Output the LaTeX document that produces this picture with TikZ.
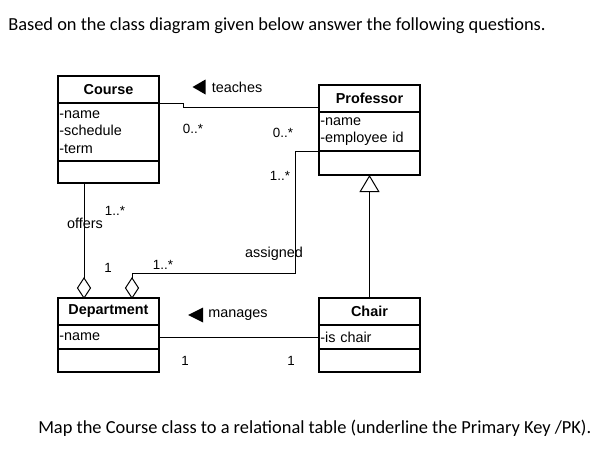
\documentclass[tikz,border=0pt]{standalone}
\usepackage{fontspec}
\setmainfont{Carlito}
\newfontfamily\umlfont{Liberation Sans}
\usetikzlibrary{positioning,shapes.geometric,arrows.meta,calc}

\tikzset{
  classhead/.style={draw, line width=0.9pt, minimum width=75.75pt, minimum height=20.25pt, inner sep=0pt, outer sep=0pt, font=\umlfont\fontsize{10.8}{13}\selectfont\bfseries},
  classbody/.style={draw, line width=0.9pt, minimum width=75.75pt, text width=73.75pt, inner xsep=1pt, inner ysep=0pt, outer sep=0pt, align=left, font=\umlfont\fontsize{10.8}{13}\selectfont},
  assoc/.style={line width=0.75pt},
  aggr/.style={diamond, draw, line width=0.75pt, fill=white, minimum width=9.75pt, minimum height=15pt, inner sep=0pt, outer sep=0pt},
  mult/.style={inner sep=0.75pt, font=\umlfont\fontsize{10}{12}\selectfont},
  rolelbl/.style={inner sep=0.75pt, font=\umlfont\fontsize{10.8}{13}\selectfont},
  plaintext/.style={anchor=base west, inner sep=0pt, font=\fontsize{13.8}{16}\selectfont}
}

\begin{document}
\begin{tikzpicture}[x=0.75pt,y=0.75pt,yscale=-1,xscale=1]
        \path [use as bounding box] (0,0) rectangle (601,455);

        % Text Node
        \node (question) [plaintext] at (8,30) {Based on the class diagram given below answer the following questions.};

        %Class: Course
        \node (course) [classhead, anchor=north west] at (58,76) {Course};
        \node (courseattr) [classbody, minimum height=43.5pt, below=0pt of course] {-name\\-schedule\\-term};
        \node (courseops) [classbody, minimum height=16.5pt, below=0pt of courseattr] {};
        %Class: Professor
        \node (prof) [classhead, anchor=north west] at (319,85) {Professor};
        \node (profattr) [classbody, minimum height=29.25pt, below=0pt of prof] {-name\\-employee id};
        \node (profops) [classbody, minimum height=18pt, below=0pt of profattr] {};
        %Class: Department
        \node (dept) [classhead, anchor=north west] at (58,298) {Department};
        \node (deptattr) [classbody, minimum height=18pt, below=0pt of dept] {-name};
        \node (deptops) [classbody, minimum height=17.25pt, below=0pt of deptattr] {};
        %Class: Chair
        \node (chair) [classhead, anchor=north west] at (319,298) {Chair};
        \node (chairattr) [classbody, minimum height=18pt, below=0pt of chair] {-is chair};
        \node (chairops) [classbody, minimum height=17.25pt, below=0pt of chairattr] {};

        %Aggregation diamonds
        \node (offagg) [aggr, anchor=south] at ($(dept.north west)+(26,0)$) {};
        \node (asgagg) [aggr, anchor=south] at ($(dept.north west)+(74,0)$) {};

        %Association: teaches
        \draw [assoc] (course.south east) -- ++(24,0) |- ($(prof.south west)+(0,-5)$);
        %Association: offers
        \draw [assoc] (offagg.north |- courseops.south) -- (offagg.north);
        %Association: assigned
        \coordinate (asgbend) at (295,273);
        \draw [assoc] (profattr.south west) -| (asgbend) -| (asgagg.north);
        %Association: manages
        \draw [assoc] (deptattr.east) -- (chairattr.west);
        %Generalization
        \draw [assoc, -{Triangle[open, width=15pt, length=12.75pt]}] (chair.north) -- (profops.south);

        % Text Node
        \node (teaches) [rolelbl] at (237,87) {teaches};
        \fill ($(teaches.west)+(-5,-7.5)$) -- ++(0,15) -- ++(-13,-7.5) -- cycle;
        % Text Node
        \node (manages) [rolelbl] at (238,315) {manages};
        \fill ($(manages.west)+(-4,-7.5)$) -- ++(0,15) -- ++(-15,-7.5) -- cycle;
        % Text Node
        \node (offers) [rolelbl] at (85,223) {offers};
        % Text Node
        \node (assigned) [rolelbl] at (274,254) {assigned};

        % Multiplicities
        \node (tchcourse) [mult] at (193,129) {0..*};
        \node (tchprof) [mult] at (283,133) {0..*};
        \node (asgprof) [mult] at (280,176) {1..*};
        \node (offcourse) [mult] at (115,211) {1..*};
        \node (offdept) [mult] at (108,268) {1};
        \node (asgdept) [mult] at (163,265) {1..*};
        \node (mngdept) [mult] at (185,361) {1};
        \node (mngchair) [mult] at (291,361) {1};

        % Text Node
        \node (task) [plaintext] at (38,433) {Map the Course class to a relational table (underline the Primary Key /PK).};

\end{tikzpicture}
\end{document}
